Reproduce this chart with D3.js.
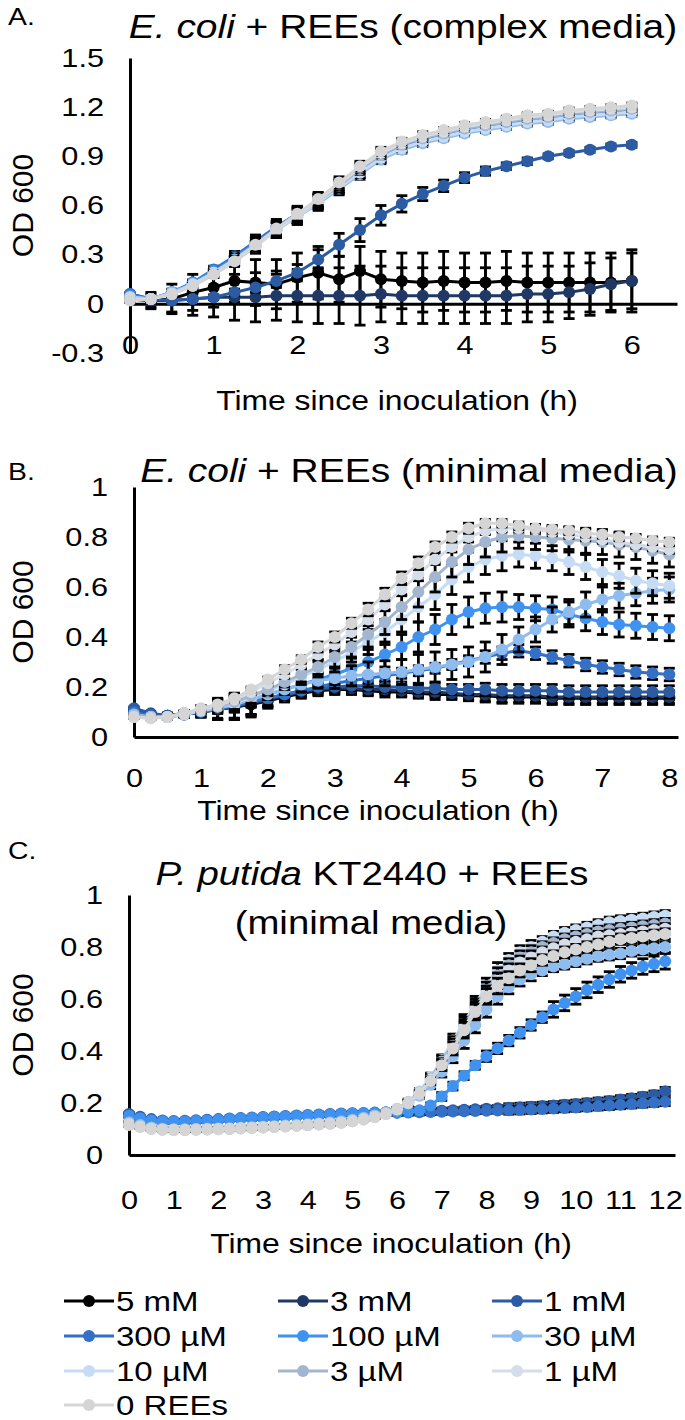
<!DOCTYPE html>
<html><head><meta charset="utf-8">
<script src="https://cdn.jsdelivr.net/npm/d3@7"></script>
<style>
body{margin:0;background:#fff;}
svg{display:block;}
</style></head>
<body><svg id="chart" width="685" height="1420"></svg>
<script>
// ---------- DATA ----------
const seriesNames = ["5 mM","3 mM","1 mM","300 µM","100 µM","30 µM","10 µM","3 µM","1 µM","0 REEs"];
const seriesColors = ["#000000","#1f3864","#2b5ba3","#3370c6","#3f92ef","#8fbcee","#c5dcf4","#a3b6cf","#d5dde8","#d5d5d5"];

const yTicksA = [-0.3,0,0.3,0.6,0.9,1.2,1.5];
const yTicksB = [0,0.2,0.4,0.6,0.8,1];
const yTicksC = [0,0.2,0.4,0.6,0.8,1];
const xTicksA = [0,1,2,3,4,5,6];
const xTicksB = [0,1,2,3,4,5,6,7,8];
const xTicksC = [0,1,2,3,4,5,6,7,8,9,10,11,12];

// Panel A: E. coli, complex media
const timeA = [0,0.25,0.5,0.75,1,1.25,1.5,1.75,2,2.25,2.5,2.75,3,3.25,3.5,3.75,4,4.25,4.5,4.75,5,5.25,5.5,5.75,6];
const a5mM   = [0.03,0.02,0.03,0.07,0.10,0.14,0.13,0.12,0.16,0.19,0.15,0.20,0.15,0.14,0.13,0.14,0.13,0.13,0.14,0.13,0.13,0.13,0.13,0.13,0.14];
const a3mM   = [0.03,0.02,0.02,0.03,0.04,0.04,0.04,0.05,0.05,0.05,0.05,0.05,0.06,0.05,0.05,0.05,0.05,0.05,0.05,0.06,0.06,0.07,0.09,0.12,0.14];
const a1mM   = [0.06,0.03,0.02,0.03,0.04,0.07,0.10,0.14,0.19,0.27,0.36,0.45,0.54,0.61,0.67,0.72,0.77,0.81,0.84,0.87,0.90,0.92,0.94,0.96,0.97];
const a300uM = [0.06,0.03,0.07,0.13,0.21,0.29,0.38,0.47,0.55,0.63,0.72,0.81,0.90,0.96,1.00,1.03,1.06,1.08,1.10,1.12,1.13,1.15,1.16,1.17,1.18];
const a100uM = [0.05,0.03,0.07,0.13,0.20,0.28,0.37,0.46,0.54,0.62,0.71,0.80,0.89,0.95,0.99,1.02,1.05,1.07,1.09,1.11,1.13,1.14,1.15,1.16,1.17];
const a30uM  = [0.04,0.03,0.07,0.12,0.19,0.27,0.36,0.45,0.53,0.61,0.70,0.79,0.88,0.94,0.98,1.01,1.04,1.06,1.08,1.10,1.11,1.13,1.14,1.15,1.16];
const a10uM  = [0.04,0.03,0.06,0.12,0.19,0.27,0.36,0.45,0.53,0.62,0.71,0.80,0.89,0.95,0.99,1.02,1.05,1.07,1.09,1.11,1.12,1.14,1.15,1.16,1.17];
const a3uM   = [0.03,0.03,0.06,0.11,0.18,0.26,0.35,0.45,0.54,0.63,0.72,0.82,0.91,0.97,1.01,1.04,1.07,1.09,1.11,1.13,1.14,1.16,1.17,1.18,1.19];
const a1uM   = [0.03,0.03,0.06,0.11,0.18,0.26,0.35,0.45,0.54,0.63,0.73,0.83,0.92,0.98,1.02,1.05,1.08,1.10,1.12,1.14,1.15,1.17,1.18,1.19,1.20];
const a0     = [0.02,0.03,0.06,0.11,0.18,0.26,0.36,0.46,0.55,0.64,0.74,0.84,0.93,0.99,1.03,1.06,1.09,1.11,1.13,1.15,1.16,1.18,1.19,1.20,1.21];
const errA5mM  = [0.02,0.05,0.09,0.11,0.12,0.13,0.14,0.15,0.15,0.16,0.14,0.15,0.17,0.17,0.18,0.18,0.18,0.18,0.18,0.18,0.18,0.18,0.18,0.18,0.19];
const errA3mM  = [0.02,0.04,0.07,0.10,0.12,0.14,0.15,0.15,0.16,0.17,0.17,0.18,0.17,0.17,0.17,0.17,0.17,0.17,0.17,0.17,0.17,0.16,0.16,0.16,0.17];
const errA1mM  = [0.005,0.005,0.005,0.01,0.015,0.02,0.03,0.04,0.05,0.06,0.07,0.07,0.06,0.05,0.04,0.035,0.03,0.025,0.02,0.02,0.015,0.015,0.015,0.015,0.015];
const errAfast = [0.005,0.005,0.01,0.015,0.02,0.03,0.04,0.045,0.045,0.04,0.035,0.03,0.025,0.02,0.02,0.015,0.015,0.015,0.015,0.015,0.015,0.015,0.015,0.015,0.015];

// Panel B: E. coli, minimal media
const timeB = [0,0.25,0.5,0.75,1,1.25,1.5,1.75,2,2.25,2.5,2.75,3,3.25,3.5,3.75,4,4.25,4.5,4.75,5,5.25,5.5,5.75,6,6.25,6.5,6.75,7,7.25,7.5,7.75,8];
const b5mM   = [0.10,0.09,0.085,0.09,0.10,0.11,0.12,0.13,0.145,0.16,0.175,0.185,0.19,0.19,0.185,0.18,0.18,0.175,0.17,0.17,0.165,0.165,0.16,0.16,0.16,0.155,0.155,0.155,0.155,0.155,0.155,0.155,0.155];
const b3mM   = [0.11,0.09,0.085,0.09,0.10,0.11,0.12,0.135,0.15,0.165,0.18,0.19,0.195,0.195,0.19,0.19,0.185,0.18,0.18,0.175,0.17,0.17,0.165,0.165,0.165,0.16,0.16,0.16,0.16,0.16,0.16,0.16,0.16];
const b1mM   = [0.115,0.095,0.085,0.095,0.105,0.115,0.125,0.14,0.155,0.17,0.185,0.195,0.20,0.205,0.205,0.20,0.20,0.195,0.195,0.19,0.19,0.19,0.185,0.185,0.185,0.185,0.18,0.18,0.18,0.18,0.18,0.18,0.18];
const b300uM = [0.10,0.085,0.08,0.09,0.10,0.11,0.125,0.14,0.155,0.17,0.185,0.20,0.215,0.225,0.235,0.245,0.255,0.265,0.275,0.29,0.305,0.32,0.335,0.345,0.335,0.32,0.305,0.29,0.28,0.27,0.26,0.255,0.25];
const b100uM = [0.09,0.08,0.08,0.09,0.105,0.115,0.13,0.15,0.17,0.19,0.21,0.23,0.25,0.275,0.30,0.33,0.36,0.40,0.43,0.47,0.50,0.515,0.52,0.52,0.515,0.51,0.49,0.475,0.46,0.45,0.445,0.44,0.435];
const b30uM  = [0.09,0.08,0.08,0.09,0.105,0.115,0.13,0.15,0.17,0.19,0.21,0.225,0.235,0.245,0.25,0.255,0.26,0.27,0.28,0.29,0.30,0.32,0.35,0.39,0.43,0.47,0.50,0.53,0.55,0.565,0.575,0.585,0.59];
const b10uM  = [0.085,0.08,0.08,0.09,0.105,0.12,0.135,0.16,0.185,0.21,0.24,0.27,0.30,0.34,0.38,0.42,0.47,0.52,0.57,0.63,0.68,0.71,0.725,0.73,0.725,0.715,0.70,0.68,0.66,0.645,0.625,0.615,0.605];
const b3uM   = [0.085,0.08,0.08,0.095,0.11,0.12,0.14,0.165,0.19,0.22,0.25,0.28,0.32,0.36,0.41,0.46,0.52,0.58,0.64,0.70,0.75,0.78,0.80,0.805,0.80,0.795,0.79,0.785,0.78,0.77,0.76,0.745,0.73];
const b1uM   = [0.08,0.075,0.08,0.095,0.11,0.125,0.15,0.18,0.215,0.25,0.29,0.33,0.37,0.42,0.47,0.53,0.59,0.65,0.71,0.76,0.80,0.825,0.835,0.835,0.83,0.82,0.81,0.80,0.79,0.78,0.77,0.76,0.75];
const b0     = [0.08,0.075,0.08,0.095,0.115,0.13,0.155,0.19,0.23,0.27,0.31,0.36,0.40,0.455,0.51,0.57,0.635,0.695,0.76,0.80,0.835,0.855,0.855,0.845,0.835,0.83,0.825,0.815,0.81,0.80,0.795,0.785,0.78];
const errBsmall = [0.005,0.005,0.005,0.005,0.01,0.01,0.01,0.01,0.01,0.015,0.015,0.02,0.02,0.02,0.025,0.025,0.025,0.025,0.02,0.02,0.02,0.015,0.015,0.015,0.015,0.015,0.015,0.015,0.015,0.015,0.015,0.015,0.015];
const errBmid   = [0.005,0.005,0.005,0.01,0.01,0.02,0.03,0.03,0.02,0.02,0.03,0.03,0.04,0.04,0.05,0.05,0.05,0.06,0.06,0.06,0.06,0.06,0.06,0.05,0.05,0.05,0.05,0.05,0.05,0.05,0.05,0.05,0.05];
const errBdark  = [0.005,0.005,0.01,0.01,0.02,0.04,0.05,0.05,0.03,0.02,0.02,0.02,0.02,0.02,0.02,0.02,0.02,0.02,0.02,0.02,0.02,0.025,0.025,0.025,0.025,0.025,0.025,0.025,0.025,0.025,0.025,0.025,0.025];

// Panel C: P. putida KT2440, minimal media
const timeC = [0,0.25,0.5,0.75,1,1.25,1.5,1.75,2,2.25,2.5,2.75,3,3.25,3.5,3.75,4,4.25,4.5,4.75,5,5.25,5.5,5.75,6,6.25,6.5,6.75,7,7.25,7.5,7.75,8,8.25,8.5,8.75,9,9.25,9.5,9.75,10,10.25,10.5,10.75,11,11.25,11.5,11.75,12];
const c1mM   = [0.158,0.147,0.138,0.133,0.131,0.132,0.134,0.136,0.138,0.14,0.142,0.144,0.146,0.148,0.15,0.152,0.154,0.156,0.158,0.16,0.161,0.162,0.163,0.164,0.165,0.166,0.167,0.168,0.17,0.172,0.174,0.176,0.178,0.18,0.182,0.184,0.186,0.188,0.19,0.193,0.196,0.2,0.204,0.208,0.213,0.218,0.224,0.231,0.245];
const c300uM = [0.152,0.142,0.134,0.13,0.128,0.129,0.131,0.133,0.135,0.137,0.139,0.141,0.143,0.145,0.147,0.149,0.151,0.153,0.155,0.157,0.158,0.159,0.16,0.161,0.162,0.163,0.164,0.165,0.166,0.167,0.168,0.169,0.17,0.171,0.172,0.173,0.175,0.177,0.179,0.181,0.183,0.185,0.188,0.19,0.193,0.196,0.199,0.202,0.205];
const c100uM = [0.15,0.14,0.133,0.13,0.128,0.129,0.131,0.133,0.136,0.138,0.14,0.142,0.144,0.146,0.148,0.15,0.152,0.154,0.156,0.158,0.16,0.161,0.162,0.163,0.164,0.167,0.172,0.19,0.225,0.265,0.305,0.345,0.38,0.41,0.44,0.47,0.50,0.53,0.56,0.585,0.61,0.635,0.655,0.675,0.695,0.71,0.725,0.735,0.745];
const c30uM  = [0.125,0.115,0.106,0.101,0.099,0.099,0.1,0.101,0.102,0.103,0.105,0.107,0.109,0.111,0.113,0.115,0.118,0.121,0.125,0.13,0.136,0.143,0.152,0.163,0.177,0.198,0.228,0.27,0.32,0.38,0.44,0.50,0.56,0.61,0.645,0.675,0.695,0.71,0.725,0.735,0.745,0.755,0.765,0.77,0.775,0.785,0.79,0.795,0.80];
const c10uM  = [0.12,0.11,0.102,0.098,0.097,0.097,0.098,0.099,0.1,0.101,0.103,0.105,0.107,0.109,0.111,0.113,0.115,0.118,0.121,0.125,0.131,0.138,0.147,0.16,0.178,0.205,0.245,0.30,0.365,0.44,0.51,0.58,0.65,0.71,0.75,0.78,0.80,0.82,0.84,0.855,0.865,0.875,0.885,0.895,0.90,0.905,0.91,0.915,0.92];
const c3uM   = [0.12,0.11,0.102,0.098,0.097,0.097,0.098,0.099,0.1,0.101,0.103,0.105,0.107,0.109,0.111,0.113,0.115,0.118,0.121,0.125,0.13,0.137,0.146,0.158,0.176,0.203,0.24,0.295,0.36,0.43,0.50,0.57,0.635,0.69,0.73,0.76,0.78,0.80,0.815,0.83,0.84,0.85,0.86,0.865,0.87,0.875,0.88,0.885,0.89];
const c1uM   = [0.118,0.109,0.101,0.097,0.096,0.096,0.097,0.098,0.099,0.1,0.102,0.104,0.106,0.108,0.11,0.112,0.114,0.117,0.12,0.124,0.13,0.137,0.146,0.158,0.176,0.202,0.238,0.29,0.35,0.42,0.49,0.56,0.62,0.67,0.71,0.74,0.76,0.78,0.795,0.81,0.82,0.83,0.84,0.845,0.85,0.855,0.86,0.865,0.87];
const c0     = [0.115,0.108,0.100,0.097,0.096,0.096,0.097,0.098,0.099,0.100,0.102,0.104,0.106,0.108,0.110,0.112,0.114,0.117,0.120,0.124,0.130,0.137,0.146,0.158,0.175,0.20,0.235,0.285,0.345,0.41,0.48,0.55,0.61,0.65,0.68,0.71,0.73,0.75,0.765,0.78,0.79,0.80,0.81,0.82,0.83,0.835,0.84,0.845,0.85];
const errCfast = [0.005,0.005,0.005,0.005,0.005,0.005,0.005,0.005,0.005,0.005,0.005,0.005,0.005,0.005,0.005,0.005,0.005,0.005,0.005,0.005,0.005,0.005,0.005,0.005,0.005,0.01,0.01,0.015,0.02,0.025,0.03,0.03,0.03,0.03,0.025,0.025,0.025,0.02,0.02,0.02,0.02,0.02,0.02,0.02,0.02,0.02,0.02,0.02,0.02];
const errCflat = [0.005,0.005,0.005,0.005,0.005,0.005,0.005,0.005,0.005,0.005,0.005,0.005,0.005,0.005,0.005,0.005,0.005,0.005,0.005,0.005,0.005,0.005,0.005,0.005,0.01,0.01,0.01,0.01,0.01,0.01,0.01,0.01,0.01,0.01,0.015,0.015,0.015,0.015,0.015,0.015,0.015,0.015,0.015,0.015,0.015,0.015,0.015,0.015,0.015];
const errC100  = [0.005,0.005,0.005,0.005,0.005,0.005,0.005,0.005,0.005,0.005,0.005,0.005,0.005,0.005,0.005,0.005,0.005,0.005,0.005,0.005,0.005,0.005,0.005,0.005,0.01,0.01,0.01,0.01,0.015,0.015,0.015,0.015,0.02,0.02,0.02,0.02,0.02,0.02,0.03,0.03,0.03,0.03,0.03,0.03,0.03,0.03,0.03,0.03,0.03];

// ---------- DRAWING ----------
const FONT = '"Liberation Sans", Arial, Helvetica, sans-serif';
const SX = 1.18; // horizontal stretch of the lettering in the original figure
const svg = d3.select("#chart");

function addText(parent, x, y, parts, size, anchor, sx) {
  const g = parent.append("g").attr("transform", `translate(${x},${y}) scale(${sx || SX},1)`);
  const t = g.append("text").attr("x", 0).attr("y", 0)
    .attr("font-family", FONT).attr("font-size", size)
    .attr("text-anchor", anchor || "start").attr("fill", "#000");
  parts.forEach(p => {
    const s = t.append("tspan").text(p.text);
    if (p.italic) s.attr("font-style", "italic");
  });
  return t;
}

function drawPanel(p) {
  const g = svg.append("g");
  const x = d3.scaleLinear().domain(p.xDomain).range(p.xRange);
  const y = d3.scaleLinear().domain(p.yDomain).range(p.yRange);

  const yAxis = d3.axisLeft(y).tickValues(p.yTicks).tickFormat(d => String(d))
    .tickSizeInner(0).tickSizeOuter(0).tickPadding(p.yPad / SX);
  const gy = g.append("g").attr("transform", `translate(${x(0)},0)`).call(yAxis);
  const xAxis = d3.axisBottom(x).tickValues(p.xTicks).tickFormat(d => String(d))
    .tickSizeInner(0).tickSizeOuter(0).tickPadding(p.xPad);
  const gx = g.append("g").attr("transform", `translate(0,${y(0)})`).call(xAxis);
  [gy, gx].forEach(a => {
    a.select(".domain").attr("stroke", "#000").attr("stroke-width", 3);
    a.selectAll("text").attr("font-family", FONT).attr("font-size", p.tickSize)
      .attr("fill", "#000").attr("transform", `scale(${SX},1)`);
  });

  // axis titles
  addText(g, p.xTitleX, p.xTitleY, [{text: "Time since inoculation (h)"}], p.axisSize, "middle");
  const yt = (p.yRange[0] + p.yRange[1]) / 2;
  g.append("text").text("OD 600")
    .attr("font-family", FONT).attr("font-size", 30).attr("text-anchor", "middle")
    .attr("dominant-baseline", "central").attr("fill", "#000")
    .attr("transform", `translate(${p.yTitleX},${yt}) rotate(-90)`);

  // series
  p.series.forEach(s => {
    if (!s.values) return;
    const pts = p.time.map((t, i) => ({t: t, v: s.values[i], e: s.err[i]}));
    const eg = g.append("g").attr("stroke", "#000").attr("stroke-width", 2.8);
    eg.selectAll("line.stem").data(pts).join("line").attr("class", "stem")
      .attr("x1", d => x(d.t)).attr("x2", d => x(d.t))
      .attr("y1", d => y(d.v - d.e)).attr("y2", d => y(d.v + d.e));
    eg.selectAll("line.cap-top").data(pts).join("line").attr("class", "cap-top")
      .attr("x1", d => x(d.t) - 5.5).attr("x2", d => x(d.t) + 5.5)
      .attr("y1", d => y(d.v + d.e)).attr("y2", d => y(d.v + d.e));
    eg.selectAll("line.cap-bot").data(pts).join("line").attr("class", "cap-bot")
      .attr("x1", d => x(d.t) - 5.5).attr("x2", d => x(d.t) + 5.5)
      .attr("y1", d => y(d.v - d.e)).attr("y2", d => y(d.v - d.e));
    g.append("path").datum(pts)
      .attr("d", d3.line().x(d => x(d.t)).y(d => y(d.v)))
      .attr("fill", "none").attr("stroke", s.color).attr("stroke-width", 3);
    g.append("g").selectAll("circle").data(pts).join("circle")
      .attr("cx", d => x(d.t)).attr("cy", d => y(d.v)).attr("r", 6)
      .attr("fill", s.color);
  });
}

function mkSeries(valuesList, errList) {
  return seriesNames.map((n, i) => ({name: n, color: seriesColors[i], values: valuesList[i], err: errList[i]}));
}

// Panel letters & titles
addText(svg, 8, 25, [{text: "A."}], 24);
addText(svg, 403, 38, [{text: "E. coli", italic: true}, {text: " + REEs (complex media)"}], 33, "middle");
addText(svg, 8, 480, [{text: "B."}], 24);
addText(svg, 409, 482, [{text: "E. coli", italic: true}, {text: " + REEs (minimal media)"}], 33, "middle");
addText(svg, 8, 859, [{text: "C."}], 24);
addText(svg, 372, 885, [{text: "P. putida", italic: true}, {text: " KT2440 + REEs"}], 32.5, "middle");
addText(svg, 371, 934, [{text: "(minimal media)"}], 32.5, "middle");

drawPanel({
  xDomain: [0, 6.54], xRange: [130, 677], yDomain: [-0.3, 1.5], yRange: [353, 58],
  xTicks: xTicksA, yTicks: yTicksA, xPad: 32, yPad: 26, tickSize: 26, axisSize: 27,
  xTitleX: 397, xTitleY: 410, yTitleX: 22, time: timeA,
  series: mkSeries([a5mM, a3mM, a1mM, a300uM, a100uM, a30uM, a10uM, a3uM, a1uM, a0],
                   [errA5mM, errA3mM, errA1mM, errAfast, errAfast, errAfast, errAfast, errAfast, errAfast, errAfast])
});
drawPanel({
  xDomain: [0, 8.13], xRange: [134, 678], yDomain: [0, 1], yRange: [737, 487],
  xTicks: xTicksB, yTicks: yTicksB, xPad: 32, yPad: 26, tickSize: 26, axisSize: 27,
  xTitleX: 378, xTitleY: 820, yTitleX: 22, time: timeB,
  series: mkSeries([b5mM, b3mM, b1mM, b300uM, b100uM, b30uM, b10uM, b3uM, b1uM, b0],
                   [errBdark, errBdark, errBdark, errBdark, errBmid, errBmid, errBmid, errBmid, errBsmall, errBsmall])
});
drawPanel({
  xDomain: [0, 12.22], xRange: [129, 675], yDomain: [0, 1], yRange: [1155, 895],
  xTicks: xTicksC, yTicks: yTicksC, xPad: 36, yPad: 26, tickSize: 26, axisSize: 27,
  xTitleX: 391, xTitleY: 1253, yTitleX: 22, time: timeC,
  series: mkSeries([null, null, c1mM, c300uM, c100uM, c30uM, c10uM, c3uM, c1uM, c0],
                   [null, null, errCflat, errCflat, errC100, errCfast, errCfast, errCfast, errCfast, errCfast])
});

// Legend
const legCols = [64, 278, 492];
const legRows = [1301, 1336, 1371, 1405];
const leg = svg.append("g");
seriesNames.forEach((n, i) => {
  const cx = legCols[i % 3], cy = legRows[Math.floor(i / 3)];
  leg.append("line").attr("x1", cx).attr("x2", cx + 50).attr("y1", cy).attr("y2", cy)
    .attr("stroke", seriesColors[i]).attr("stroke-width", 3);
  leg.append("circle").attr("cx", cx + 25).attr("cy", cy).attr("r", 6).attr("fill", seriesColors[i]);
  addText(leg, cx + 52, cy, [{text: n}], 28).attr("dominant-baseline", "central");
});
</script>
</body></html>
